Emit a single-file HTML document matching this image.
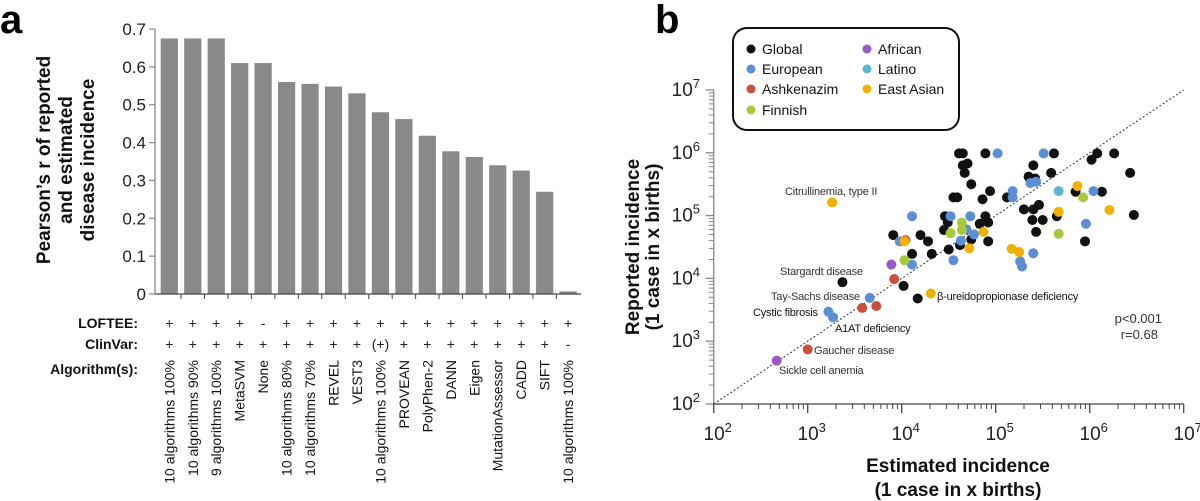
<!DOCTYPE html>
<html><head><meta charset="utf-8"><style>
html,body{margin:0;padding:0;background:#fff}
svg{display:block;font-family:"Liberation Sans",sans-serif}
</style></head><body>
<svg id="chart" width="1200" height="501" viewBox="0 0 1200 501"></svg>
<script>
// ---------- Panel a data ----------
const barCategories = ["10 algorithms 100%","10 algorithms 90%","9 algorithms 100%","MetaSVM","None","10 algorithms 80%","10 algorithms 70%","REVEL","VEST3","10 algorithms 100%","PROVEAN","PolyPhen-2","DANN","Eigen","MutationAssessor","CADD","SIFT","10 algorithms 100%"];
const barValues = [0.675,0.675,0.675,0.61,0.61,0.56,0.555,0.548,0.53,0.48,0.462,0.418,0.377,0.362,0.34,0.326,0.27,0.007];
const lofteeFlags = ["+","+","+","+","-","+","+","+","+","+","+","+","+","+","+","+","+","+"];
const clinvarFlags = ["+","+","+","+","+","+","+","+","+","(+)","+","+","+","+","+","+","+","-"];
const barTicks = [0,0.1,0.2,0.3,0.4,0.5,0.6,0.7];
const barTickLabels = ["0","0.1","0.2","0.3","0.4","0.5","0.6","0.7"];

// ---------- Panel b data (log10 of births per case) ----------
const groups = ["Global","European","Ashkenazim","Finnish","African","Latino","East Asian"];
const groupColors = {"Global":"#111111","European":"#5b8fd4","Ashkenazim":"#c9503c","Finnish":"#a8c93c","African":"#9b59c9","Latino":"#5bb7d6","East Asian":"#f2b100"};
const globalEst = [4.61,4.65,4.89,5.62,6.08,6.26,6.02,4.65,4.70,4.67,5.40,5.59,6.43,5.35,5.42,4.74,4.94,4.86,4.55,4.59,5.12,5.85,6.13,5.30,5.40,5.46,5.39,5.50,5.43,5.65,6.47,5.95,4.46,4.49,4.45,4.89,4.83,4.92,4.74,4.62,4.92,4.50,3.91,4.20,4.28,4.11,4.32,4.02,4.17,3.37];
const globalRep = [5.99,5.99,5.99,5.99,5.99,5.99,5.89,5.80,5.83,5.68,5.80,5.68,5.68,5.62,5.59,5.50,5.39,5.26,5.29,5.29,5.29,5.38,5.38,5.10,5.10,5.17,4.93,4.93,4.74,4.99,5.01,4.59,4.99,4.89,4.77,4.99,4.87,4.89,4.62,4.53,4.59,4.46,4.69,4.69,4.59,4.39,4.39,3.88,3.68,3.94];
const europeanEst = [5.02,5.51,5.18,5.18,5.37,5.43,6.04,4.11,4.52,4.73,4.69,4.77,4.63,3.98,4.11,4.55,5.40,5.26,5.28,5.96,3.66,3.22,3.27];
const europeanRep = [5.99,5.99,5.39,5.29,5.52,5.54,5.39,4.99,4.99,4.99,4.78,4.70,4.60,4.59,4.22,4.29,4.40,4.27,4.19,4.87,3.69,3.47,3.38];
const latinoEst = [5.67];
const latinoRep = [5.39];
const ashkenazimEst = [4.04,3.92,3.58,3.73,3.00];
const ashkenazimRep = [4.61,3.99,3.53,3.56,2.87];
const africanEst = [3.89,2.67];
const africanRep = [4.22,2.69];
const eastAsianEst = [3.26,4.03,4.72,4.87,5.17,5.25,5.67,5.87,6.21,4.31];
const eastAsianRep = [5.21,4.59,4.48,4.74,4.47,4.42,5.06,5.47,5.09,3.76];
const finnishEst = [4.64,4.64,4.52,4.03,5.67,5.93];
const finnishRep = [4.89,4.77,4.72,4.29,4.71,5.29];
const logTicks = [2,3,4,5,6,7];

const NS="http://www.w3.org/2000/svg";
const svg=document.getElementById('chart');
function mk(tag,attrs,parent){const e=document.createElementNS(NS,tag);for(const k in attrs)e.setAttribute(k,attrs[k]);(parent||svg).appendChild(e);return e;}
function txt(s,attrs,parent){const e=mk('text',attrs,parent);e.textContent=s;return e;}

// ===== Panel a =====
const A={x0:155,x1:581,y0:294,y1:29,vmax:0.7,pitch:23.46,first:160.7,bw:17.2};
const ya=v=>A.y0-(v/A.vmax)*(A.y0-A.y1);
const xa=i=>A.first+i*A.pitch;
let g=mk('g',{});


let t=txt('a',{x:0,y:33,'font-size':40,'font-weight':'bold'},g);


barValues.forEach((v,i)=>{
  const r=mk('rect',{x:xa(i),y:ya(v),width:A.bw,height:A.y0-ya(v),fill:'#898989'},g);
  
  
});
let ax=mk('line',{x1:A.x0,y1:A.y1,x2:A.x0,y2:A.y0,stroke:'#888','stroke-width':1.3},g);


let bx=mk('line',{x1:A.x0,y1:A.y0,x2:A.x1,y2:A.y0,stroke:'#444','stroke-width':1.3},g);


barTicks.forEach((v,i)=>{
  mk('line',{x1:A.x0-6,y1:ya(v),x2:A.x0,y2:ya(v),stroke:'#888','stroke-width':1.2},g);
  const l=txt(barTickLabels[i],{x:146,y:ya(v)+6,'font-size':17,'text-anchor':'end',fill:'#222'},g);
  
  
});
for(let i=1;i<barValues.length;i++){
  const xx=xa(i)-(A.pitch-A.bw)/2;
  mk('line',{x1:xx,y1:A.y0,x2:xx,y2:A.y0+5,stroke:'#444','stroke-width':1},g);
}
let yt=mk('text',{transform:'translate(0,160) rotate(-90)','font-size':19,'font-weight':'bold','text-anchor':'middle',fill:'#111'},g);


[['Pearson\u2019s r of reported',50],['and estimated',72],['disease incidence',94]].forEach(([s,x])=>{const ts=mk('tspan',{x:0,y:x},yt);ts.textContent=s;});
[['LOFTEE:',323],['ClinVar:',344],['Algorithm(s):',369]].forEach(([s,y])=>{
  const l=txt(s,{x:138,y:y+5,'font-size':14,'font-weight':'bold','text-anchor':'end',fill:'#111'},g);
  
  
});
barCategories.forEach((c,i)=>{
  const cx=xa(i)+A.bw/2;
  const l1=txt(lofteeFlags[i],{x:cx,y:328,'font-size':14,'text-anchor':'middle',fill:'#222'},g);
  
  
  const l2=txt(clinvarFlags[i],{x:cx,y:349,'font-size':14,'text-anchor':'middle',fill:'#222'},g);
  
  
  const l3=txt(c,{transform:`translate(${cx+5},360) rotate(-90)`,'font-size':14,'text-anchor':'end',fill:'#111'},g);
  
  
});

// ===== Panel b =====
const B={x0:713.7,dx:94,y0:404,dy:62.8};
const xb=l=>B.x0+(l-2)*B.dx;
const yb=l=>B.y0-(l-2)*B.dy;
let gb=mk('g',{});


t=txt('b',{x:655,y:33,'font-size':40,'font-weight':'bold'},gb);


// axes
let ybx=mk('line',{x1:B.x0,y1:yb(7),x2:B.x0,y2:B.y0,stroke:'#888','stroke-width':1.3},gb);


let xbx=mk('line',{x1:B.x0,y1:B.y0,x2:xb(7),y2:B.y0,stroke:'#444','stroke-width':1.3},gb);


logTicks.forEach(d=>{
  mk('line',{x1:B.x0-8,y1:yb(d),x2:B.x0,y2:yb(d),stroke:'#888','stroke-width':1.3},gb);
  mk('line',{x1:xb(d),y1:B.y0,x2:xb(d),y2:B.y0+9,stroke:'#444','stroke-width':1.3},gb);
  if(d<7){for(let m=2;m<10;m++){const o=Math.log10(m);
    mk('line',{x1:B.x0-5,y1:yb(d+o),x2:B.x0,y2:yb(d+o),stroke:'#888','stroke-width':1},gb);
    mk('line',{x1:xb(d+o),y1:B.y0,x2:xb(d+o),y2:B.y0+5,stroke:'#444','stroke-width':1},gb);}}
  const yl=txt('',{x:700,y:yb(d)+6,'font-size':19,'text-anchor':'end',fill:'#222'},gb);
  
  
  let s1=mk('tspan',{},yl);s1.textContent='10';let s2=mk('tspan',{dy:-8,'font-size':13},yl);s2.textContent=String(d);
  const xl=txt('',{x:xb(d)+4,y:440,'font-size':19,'text-anchor':'middle',fill:'#222'},gb);
  
  
  s1=mk('tspan',{},xl);s1.textContent='10';s2=mk('tspan',{dy:-8,'font-size':13},xl);s2.textContent=String(d);
});
let idl=mk('line',{x1:xb(2),y1:yb(2),x2:xb(7),y2:yb(7),stroke:'#333','stroke-width':1,'stroke-dasharray':'2,2'},gb);


// points
const series=[["Global",globalEst,globalRep],["European",europeanEst,europeanRep],["Latino",latinoEst,latinoRep],["Ashkenazim",ashkenazimEst,ashkenazimRep],["African",africanEst,africanRep],["East Asian",eastAsianEst,eastAsianRep],["Finnish",finnishEst,finnishRep]];
series.forEach(([name,xs,ys])=>{
  xs.forEach((x,i)=>{
    const c=mk('circle',{cx:xb(x),cy:yb(ys[i]),r:5,fill:groupColors[name]},gb);
    
    
  });
});
// annotations
[["Citrullinemia, type II",785,195,'#333'],["Stargardt disease",780,275,'#333'],["Tay-Sachs disease",771,300,'#333'],["Cystic fibrosis",753,316,'#111'],["\u03b2-ureidopropionase deficiency",937,300,'#111'],["A1AT deficiency",835,332,'#111'],["Gaucher disease",814,354,'#333'],["Sickle cell anemia",779,374,'#333']].forEach(([s,x,y,c])=>{
  const l=txt(s,{x:x,y:y,'font-size':11,fill:c,'letter-spacing':'-0.2'},gb);
  
  
});
t=txt('p<0.001',{x:1162,y:323,'font-size':13,'text-anchor':'end',fill:'#333'},gb);


t=txt('r=0.68',{x:1158,y:339,'font-size':13,'text-anchor':'end',fill:'#333'},gb);


// titles
let xtt=mk('text',{x:958,'font-size':19,'font-weight':'bold','text-anchor':'middle',fill:'#111'},gb);


let ts=mk('tspan',{x:958,y:472},xtt);ts.textContent='Estimated incidence';
ts=mk('tspan',{x:958,y:496},xtt);ts.textContent='(1 case in x births)';
let ytt=mk('text',{transform:'translate(0,247) rotate(-90)','font-size':19,'font-weight':'bold','text-anchor':'middle',fill:'#111'},gb);


ts=mk('tspan',{x:0,y:639},ytt);ts.textContent='Reported incidence';
ts=mk('tspan',{x:0,y:659},ytt);ts.textContent='(1 case in x births)';
// legend
let lg=mk('g',{},gb);


mk('rect',{x:733,y:28,width:226,height:102,rx:14,fill:'#fff',stroke:'#111','stroke-width':2},lg);
const legendPos={"Global":[751,49],"European":[751,69],"Ashkenazim":[751,89],"Finnish":[751,110],"African":[867,49],"Latino":[867,69],"East Asian":[867,89]};
groups.forEach(gname=>{
  const [x,y]=legendPos[gname];
  const e=mk('g',{},lg);
  
  
  mk('circle',{cx:x,cy:y,r:4.5,fill:groupColors[gname]},e);
  txt(gname,{x:x+11,y:y+5,'font-size':14,fill:'#111'},e);
});
</script>
</body></html>
